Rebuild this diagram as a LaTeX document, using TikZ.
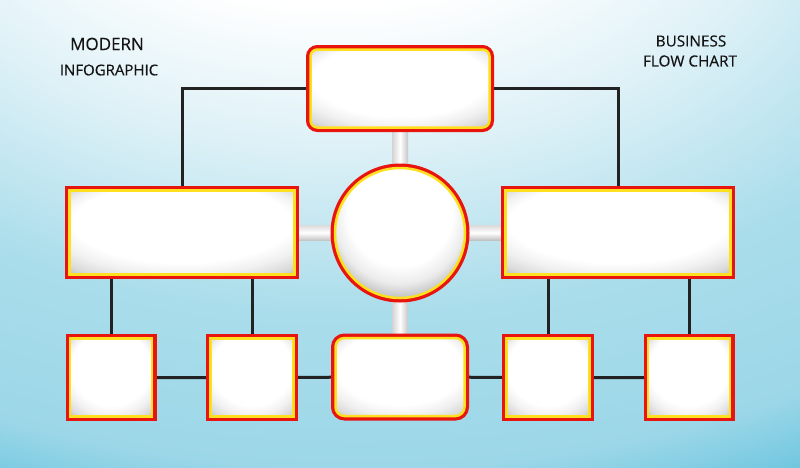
\documentclass[tikz,border=0pt]{standalone}
\usepackage{fontspec}
\setmainfont{Open Sans}
\newfontfamily\lblfont[FakeBold=0.35]{Open Sans}
\usetikzlibrary{calc,backgrounds}
\pgfdeclarelayer{bg}
\pgfsetlayers{bg,background,main}
\definecolor{boxred}{HTML}{E8150E}
\definecolor{boxyellow}{HTML}{FFE020}
\definecolor{linec}{HTML}{222222}
\definecolor{txt}{HTML}{141414}
\pgfdeclareradialshading{bgshade}{\pgfpoint{-5bp}{50bp}}{%
  color(0bp)=(white); color(17bp)=(white); color(27bp)=(rgb,255:red,222;green,241;blue,247);
  color(33bp)=(rgb,255:red,196;green,231;blue,241); color(39bp)=(rgb,255:red,170;green,221;blue,235);
  color(50bp)=(rgb,255:red,156;green,215;blue,232); color(55bp)=(rgb,255:red,111;green,198;blue,223);
  color(100bp)=(rgb,255:red,100;green,193;blue,220)}
\pgfdeclareradialshading{boxshade}{\pgfpoint{0bp}{15bp}}{%
  color(0bp)=(white); color(24bp)=(white); color(29bp)=(rgb,255:red,240;green,240;blue,240);
  color(33.5bp)=(rgb,255:red,218;green,218;blue,218); color(36.5bp)=(rgb,255:red,188;green,188;blue,188);
  color(40bp)=(rgb,255:red,170;green,170;blue,170)}
\pgfdeclareradialshading{ballshade}{\pgfpoint{0bp}{15bp}}{%
  color(0bp)=(white); color(20bp)=(white); color(25bp)=(rgb,255:red,236;green,236;blue,236);
  color(28.5bp)=(rgb,255:red,200;green,200;blue,200); color(40bp)=(rgb,255:red,175;green,175;blue,175)}
\tikzset{
  panel/.style={draw=boxyellow, line width=2.5pt, shading=boxshade, inner sep=0pt,
    preaction={draw=boxred, line width=9pt}},
  sqbox/.style={panel, rectangle, minimum width=#1},
  rbox/.style={panel, rectangle, rounded corners=7pt},
  ball/.style={panel, circle, minimum size=130pt, shading=ballshade},
  wire/.style={draw=linec, line width=3pt},
  tubev/.style={left color=gray!35, right color=gray!45, middle color=white},
  tubeh/.style={top color=gray!28, bottom color=gray!48, middle color=white},
  label/.style={text=txt, inner sep=0pt}
}
\begin{document}
\begin{tikzpicture}[x=1pt,y=-1pt]
\begin{pgfonlayer}{bg}
  \shade[shading=bgshade] (0,0) rectangle (800,467);
\end{pgfonlayer}
\useasboundingbox (0,0) rectangle (800,467);

% nodes
\node[rbox, minimum width=179pt, minimum height=78pt] (top) at (400,88.5) {};
\node[sqbox=225pt, minimum height=84pt] (midL) at (182,232.5) {};
\node[sqbox=225pt, minimum height=84pt] (midR) at (618,232.5) {};
\node[ball] (circ) at (400,233) {};
\node[sqbox=82pt, minimum height=78pt] (b1) at (111,377.5) {};
\node[sqbox=83pt, minimum height=78pt] (b2) at (252,377.5) {};
\node[rbox, rounded corners=9pt, minimum width=129pt, minimum height=78pt] (bc) at (400,377) {};
\node[sqbox=83pt, minimum height=78pt] (b4) at (548,377.5) {};
\node[sqbox=82pt, minimum height=78pt] (b5) at (689,377.5) {};

% texts
\node[label, font=\lblfont\fontsize{17}{19}\selectfont] (t1) at (107,44) {MODERN};
\node[label, font=\lblfont\fontsize{15}{17}\selectfont] (t2) at (109,70) {INFOGRAPHIC};
\node[label, font=\lblfont\fontsize{15.3}{17}\selectfont] (t3) at (691,41) {BUSINESS};
\node[label, font=\lblfont\fontsize{15.3}{17}\selectfont] (t4) at (690,61) {FLOW CHART};

% connectors and tubes behind the panels
\begin{pgfonlayer}{background}
  \draw[wire] (top.west) -| (midL.north);
  \draw[wire] (top.east) -| (midR.north);
  \draw[wire] (b1.north) -- (b1.north |- midL.south);
  \draw[wire] (b2.north) -- (b2.north |- midL.south);
  \draw[wire] (b4.north) -- (b4.north |- midR.south);
  \draw[wire] (b5.north) -- (b5.north |- midR.south);
  \draw[wire] (b1.center) -- (b2.center) -- (bc.center) -- (b4.center) -- (b5.center);
  \shade[tubev] ($(top.south)+(-8,-2)$) rectangle ($(circ.north)+(8,4)$);
  \shade[tubev] ($(circ.south)+(-8,-4)$) rectangle ($(bc.north)+(8,2)$);
  \shade[tubeh] ($(midL.east)+(-2,-7.5)$) rectangle ($(circ.west)+(4,7.5)$);
  \shade[tubeh] ($(circ.east)+(-4,-7.5)$) rectangle ($(midR.west)+(2,7.5)$);
\end{pgfonlayer}
\end{tikzpicture}
\end{document}
